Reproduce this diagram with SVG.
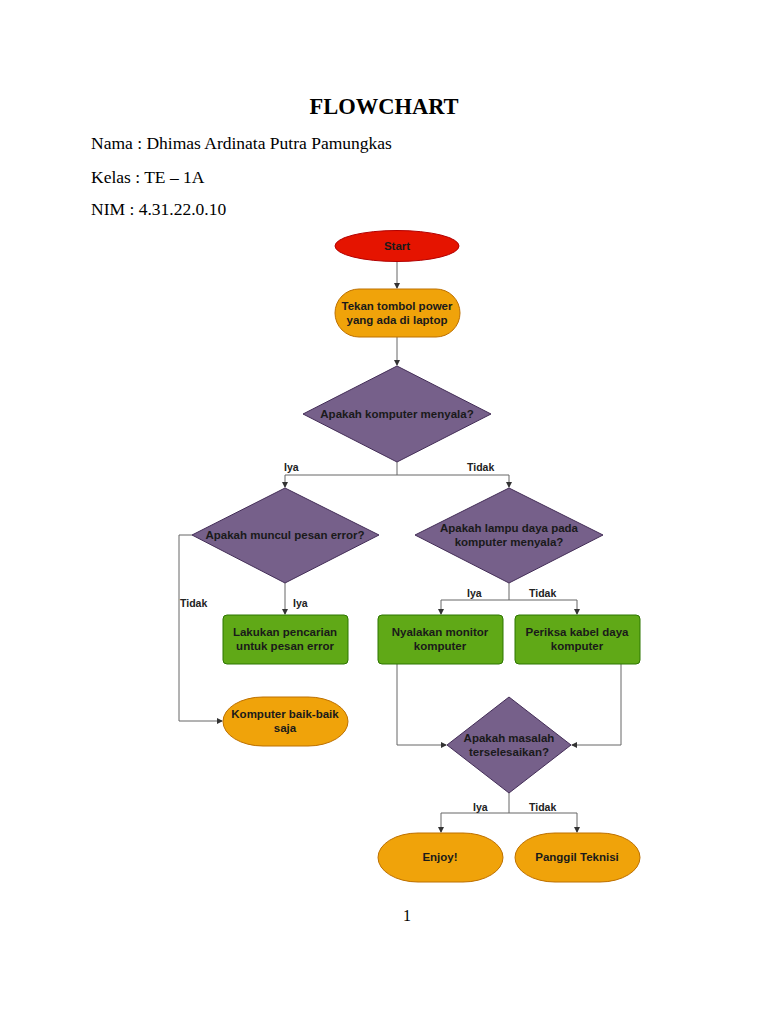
<svg xmlns="http://www.w3.org/2000/svg" width="768" height="1024" viewBox="0 0 768 1024">
<style>
.h{font-family:"Liberation Serif",serif;fill:#000}
.t{font-family:"Liberation Sans",Arial,sans-serif;font-size:11.5px;font-weight:bold;fill:#1a1a1a;text-anchor:middle}
.l{font-family:"Liberation Sans",Arial,sans-serif;font-size:10.5px;font-weight:bold;fill:#222}
.red{fill:#e51400;stroke:#b20000}
.or{fill:#f0a30a;stroke:#bd7000}
.pu{fill:#76608a;stroke:#432d57}
.gr{fill:#60a917;stroke:#2d7600}
.c{fill:none;stroke:#666;stroke-width:1}
</style>
<defs><marker id="a" markerWidth="6" markerHeight="6" refX="5" refY="3" orient="auto" markerUnits="userSpaceOnUse"><path d="M0,0 L6,3 L0,6 Z" fill="#333"/></marker></defs>
<rect width="768" height="1024" fill="#fff"/>
<text class="h" x="384" y="114" font-size="22.5" font-weight="bold" text-anchor="middle">FLOWCHART</text>
<text class="h" x="91" y="149" font-size="17.5">Nama : Dhimas Ardinata Putra Pamungkas</text>
<text class="h" x="91" y="183" font-size="17.5">Kelas : TE – 1A</text>
<text class="h" x="91" y="215" font-size="17.5">NIM  : 4.31.22.0.10</text>
<text class="h" x="407" y="921" font-size="16" text-anchor="middle">1</text>
<g id="connectors">
<path class="c" d="M397,262 V288" marker-end="url(#a)"/>
<path class="c" d="M397,337 V365" marker-end="url(#a)"/>
<path class="c" d="M397,462 V475 H285 V487" marker-end="url(#a)"/>
<path class="c" d="M397,475 H509 V487" marker-end="url(#a)"/>
<path class="c" d="M192,535 H179 V721 H222" marker-end="url(#a)"/>
<path class="c" d="M285,583 V614" marker-end="url(#a)"/>
<path class="c" d="M509,583 V600 H441 V614" marker-end="url(#a)"/>
<path class="c" d="M509,600 H577 V614" marker-end="url(#a)"/>
<path class="c" d="M397,664 V745 H446" marker-end="url(#a)"/>
<path class="c" d="M621,664 V745 H572" marker-end="url(#a)"/>
<path class="c" d="M509,793 V813 H441 V832" marker-end="url(#a)"/>
<path class="c" d="M509,813 H577 V832" marker-end="url(#a)"/>
<text class="l" x="284" y="471">Iya</text>
<text class="l" x="467" y="471">Tidak</text>
<text class="l" x="180" y="607">Tidak</text>
<text class="l" x="293" y="607">Iya</text>
<text class="l" x="467" y="597">Iya</text>
<text class="l" x="529" y="597">Tidak</text>
<text class="l" x="473" y="811">Iya</text>
<text class="l" x="529" y="811">Tidak</text>
</g>
<g id="start"><ellipse class="red" cx="397" cy="246" rx="62" ry="15.5"/><text class="t" x="397" y="250">Start</text></g>
<g id="tekan"><rect class="or" x="335" y="289" width="125" height="48" rx="24"/><text class="t" x="397" y="310">Tekan tombol power</text><text class="t" x="397" y="324">yang ada di laptop</text></g>
<g id="d1"><polygon class="pu" points="397,366 491,414 397,462 303,414"/><text class="t" x="397" y="418">Apakah komputer menyala?</text></g>
<g id="d2"><polygon class="pu" points="285,488 379,535 285,583 192,535"/><text class="t" x="285" y="539">Apakah muncul pesan error?</text></g>
<g id="d3"><polygon class="pu" points="509,488 603,535 509,583 415,535"/><text class="t" x="509" y="532">Apakah lampu daya pada</text><text class="t" x="509" y="546">komputer menyala?</text></g>
<g id="lakukan"><rect class="gr" x="223" y="615" width="125" height="49" rx="4"/><text class="t" x="285" y="636">Lakukan pencarian</text><text class="t" x="285" y="650">untuk pesan error</text></g>
<g id="nyalakan"><rect class="gr" x="378" y="615" width="125" height="49" rx="4"/><text class="t" x="440" y="636">Nyalakan monitor</text><text class="t" x="440" y="650">komputer</text></g>
<g id="periksa"><rect class="gr" x="515" y="615" width="125" height="49" rx="4"/><text class="t" x="577" y="636">Periksa kabel daya</text><text class="t" x="577" y="650">komputer</text></g>
<g id="baik"><rect class="or" x="223" y="697" width="125" height="49" rx="40" ry="24.5"/><text class="t" x="285" y="718">Komputer baik-baik</text><text class="t" x="285" y="732">saja</text></g>
<g id="d4"><polygon class="pu" points="509,697 571,745 509,793 447,745"/><text class="t" x="509" y="742">Apakah masalah</text><text class="t" x="509" y="756">terselesaikan?</text></g>
<g id="enjoy"><rect class="or" x="378" y="833" width="125" height="49" rx="40" ry="24.5"/><text class="t" x="440" y="861">Enjoy!</text></g>
<g id="panggil"><rect class="or" x="515" y="833" width="125" height="49" rx="40" ry="24.5"/><text class="t" x="577" y="861">Panggil Teknisi</text></g>
</svg>
